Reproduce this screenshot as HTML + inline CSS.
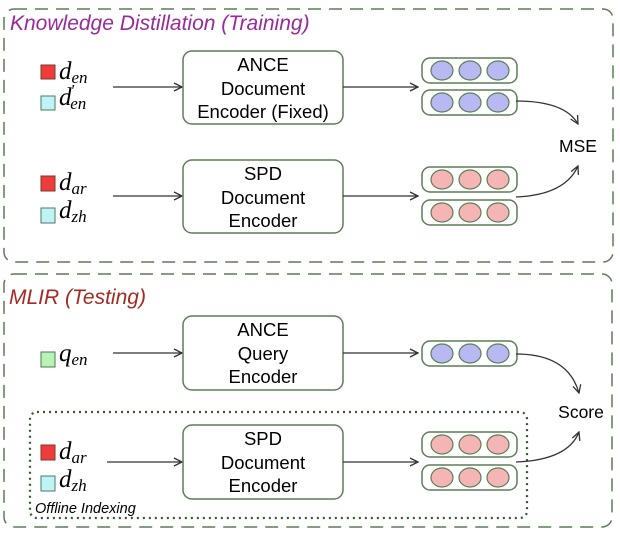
<!DOCTYPE html>
<html><head><meta charset="utf-8"><style>
html,body{margin:0;padding:0;background:#fff;}
svg{display:block;}
text{font-family:"Liberation Sans",sans-serif;}
.m{font-family:"Liberation Serif",serif;font-style:italic;}
</style></head><body>
<svg width="620" height="533" viewBox="0 0 620 533" xmlns="http://www.w3.org/2000/svg">
<defs>
<marker id="a" markerWidth="10" markerHeight="10" refX="9" refY="5" orient="auto" markerUnits="userSpaceOnUse">
<path d="M1,1 L9,5 L1,9" fill="none" stroke="#333" stroke-width="1.3"/>
</marker>
<g id="vb"><rect x="0" y="0" width="95" height="25" rx="8" fill="#fff" stroke="#5a7f55" stroke-width="1.5"/>
<ellipse cx="20" cy="12.5" rx="11" ry="9.5" fill="#b8b8f2" stroke="#5a7f55" stroke-width="1.2"/>
<ellipse cx="48" cy="12.5" rx="11" ry="9.5" fill="#b8b8f2" stroke="#5a7f55" stroke-width="1.2"/>
<ellipse cx="76" cy="12.5" rx="11" ry="9.5" fill="#b8b8f2" stroke="#5a7f55" stroke-width="1.2"/></g>
<g id="vp"><rect x="0" y="0" width="95" height="25" rx="8" fill="#fff" stroke="#5a7f55" stroke-width="1.5"/>
<ellipse cx="20" cy="12.5" rx="11" ry="9.5" fill="#f5b5b5" stroke="#5a7f55" stroke-width="1.2"/>
<ellipse cx="48" cy="12.5" rx="11" ry="9.5" fill="#f5b5b5" stroke="#5a7f55" stroke-width="1.2"/>
<ellipse cx="76" cy="12.5" rx="11" ry="9.5" fill="#f5b5b5" stroke="#5a7f55" stroke-width="1.2"/></g>
</defs>

<!-- panels -->
<rect x="4" y="9" width="609" height="253" rx="10" fill="none" stroke="#5a7f55" stroke-width="1.5" stroke-dasharray="13,8"/>
<rect x="4" y="274" width="608" height="253" rx="10" fill="none" stroke="#5a7f55" stroke-width="1.5" stroke-dasharray="13,8"/>
<text x="10" y="30" font-size="21" font-style="italic" fill="#9a2a9a">Knowledge Distillation (Training)</text>
<text x="9" y="304" font-size="21" font-style="italic" fill="#a52a22">MLIR (Testing)</text>

<!-- top row 1 -->
<rect x="41" y="65" width="14" height="14" fill="#ee3b3b" stroke="#7a3a2a" stroke-width="1"/>
<rect x="41" y="96" width="14" height="14" fill="#c0f4f4" stroke="#4a7a6a" stroke-width="1"/>
<text class="m" x="59" y="79" font-size="25">d<tspan font-size="17" dy="4">en</tspan></text>
<text class="m" x="59" y="105" font-size="25">d<tspan font-size="17" dy="-9" font-style="normal">′</tspan><tspan font-size="17" dy="13" dx="-5">en</tspan></text>
<line x1="113" y1="87" x2="182" y2="87" stroke="#333" stroke-width="1.3" marker-end="url(#a)"/>
<rect x="183" y="51" width="160" height="73" rx="9" fill="#fff" stroke="#5a7f55" stroke-width="1.5"/>
<text x="263" y="71" font-size="18.5" text-anchor="middle">ANCE</text>
<text x="263" y="95" font-size="18.5" text-anchor="middle">Document</text>
<text x="263" y="118" font-size="18.5" text-anchor="middle">Encoder (Fixed)</text>
<line x1="343" y1="87" x2="418" y2="87" stroke="#333" stroke-width="1.3" marker-end="url(#a)"/>
<use href="#vb" x="422" y="58"/>
<use href="#vb" x="422" y="90"/>

<!-- top row 2 -->
<rect x="41" y="176" width="14" height="15" fill="#ee3b3b" stroke="#7a3a2a" stroke-width="1"/>
<rect x="41" y="208" width="14" height="15" fill="#c0f4f4" stroke="#4a7a6a" stroke-width="1"/>
<text class="m" x="59" y="190" font-size="25">d<tspan font-size="17" dy="4">ar</tspan></text>
<text class="m" x="59" y="218" font-size="25">d<tspan font-size="17" dy="4">zh</tspan></text>
<line x1="113" y1="196" x2="182" y2="196" stroke="#333" stroke-width="1.3" marker-end="url(#a)"/>
<rect x="183" y="160" width="160" height="73" rx="9" fill="#fff" stroke="#5a7f55" stroke-width="1.5"/>
<text x="263" y="180" font-size="18.5" text-anchor="middle">SPD</text>
<text x="263" y="204" font-size="18.5" text-anchor="middle">Document</text>
<text x="263" y="227" font-size="18.5" text-anchor="middle">Encoder</text>
<line x1="343" y1="196" x2="418" y2="196" stroke="#333" stroke-width="1.3" marker-end="url(#a)"/>
<use href="#vp" x="422" y="167"/>
<use href="#vp" x="422" y="200"/>

<path d="M516,101 Q565,101 578,124" fill="none" stroke="#333" stroke-width="1.3" marker-end="url(#a)"/>
<path d="M516,197 Q565,195 578,166" fill="none" stroke="#333" stroke-width="1.3" marker-end="url(#a)"/>
<text x="578" y="152" font-size="17.5" text-anchor="middle">MSE</text>

<!-- bottom -->
<rect x="41" y="352" width="14" height="15" fill="#b8f2b8" stroke="#4a7a4a" stroke-width="1"/>
<text class="m" x="59" y="361" font-size="25">q<tspan font-size="17" dy="4">en</tspan></text>
<line x1="113" y1="353" x2="182" y2="353" stroke="#333" stroke-width="1.3" marker-end="url(#a)"/>
<rect x="183" y="316" width="160" height="74" rx="9" fill="#fff" stroke="#5a7f55" stroke-width="1.5"/>
<text x="263" y="336" font-size="18.5" text-anchor="middle">ANCE</text>
<text x="263" y="360" font-size="18.5" text-anchor="middle">Query</text>
<text x="263" y="383" font-size="18.5" text-anchor="middle">Encoder</text>
<line x1="343" y1="353" x2="418" y2="353" stroke="#333" stroke-width="1.3" marker-end="url(#a)"/>
<use href="#vb" x="422" y="341"/>
<path d="M516,354 Q568,354 579,393" fill="none" stroke="#333" stroke-width="1.3" marker-end="url(#a)"/>
<text x="581" y="418" font-size="17.5" text-anchor="middle">Score</text>

<rect x="30" y="412" width="497" height="106" rx="7" fill="none" stroke="#2f5a2a" stroke-width="2.2" stroke-dasharray="2,4"/>
<rect x="41" y="445" width="14" height="15" fill="#ee3b3b" stroke="#7a3a2a" stroke-width="1"/>
<rect x="41" y="476" width="14" height="15" fill="#c0f4f4" stroke="#4a7a6a" stroke-width="1"/>
<text class="m" x="59" y="459" font-size="25">d<tspan font-size="17" dy="4">ar</tspan></text>
<text class="m" x="59" y="487" font-size="25">d<tspan font-size="17" dy="4">zh</tspan></text>
<line x1="107" y1="462" x2="182" y2="462" stroke="#333" stroke-width="1.3" marker-end="url(#a)"/>
<rect x="183" y="425" width="160" height="74" rx="9" fill="#fff" stroke="#5a7f55" stroke-width="1.5"/>
<text x="263" y="445" font-size="18.5" text-anchor="middle">SPD</text>
<text x="263" y="469" font-size="18.5" text-anchor="middle">Document</text>
<text x="263" y="492" font-size="18.5" text-anchor="middle">Encoder</text>
<line x1="343" y1="462" x2="418" y2="462" stroke="#333" stroke-width="1.3" marker-end="url(#a)"/>
<use href="#vp" x="422" y="432"/>
<use href="#vp" x="422" y="465"/>
<path d="M516,462 Q568,460 579,432" fill="none" stroke="#333" stroke-width="1.3" marker-end="url(#a)"/>
<text x="35" y="513" font-size="14.5" font-style="italic">Offline Indexing</text>
</svg>
</body></html>
